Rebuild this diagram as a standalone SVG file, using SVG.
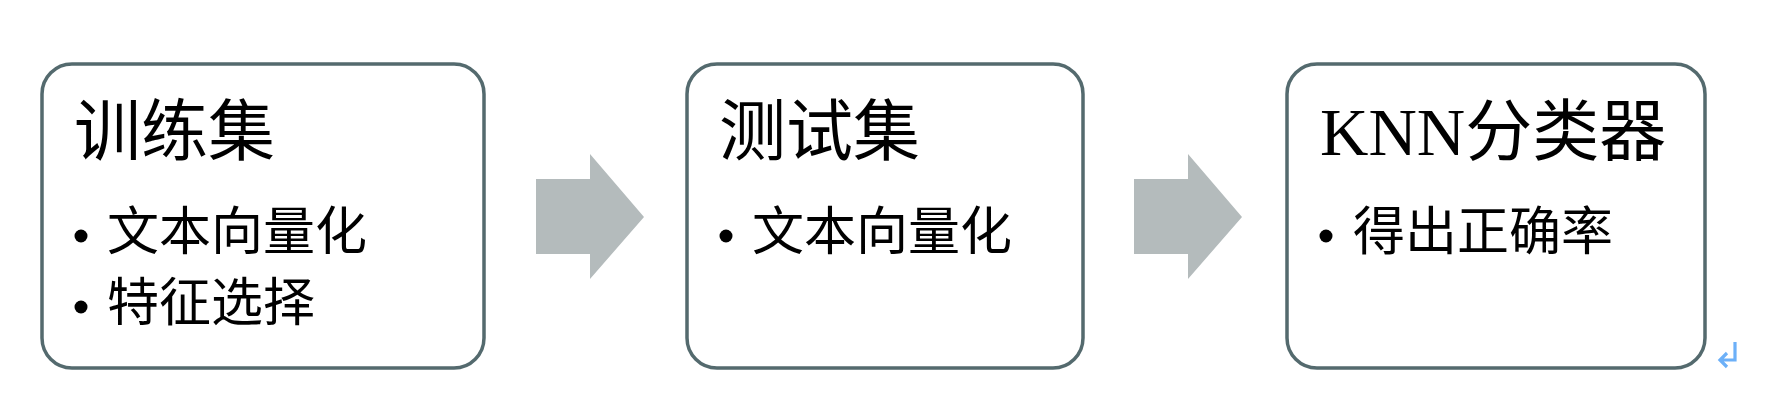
<svg xmlns="http://www.w3.org/2000/svg" width="1774" height="404" viewBox="0 0 1774 404">
<style>
.box{fill:#ffffff;stroke:#546a6e;stroke-width:3.5}
.title{font-family:"Liberation Serif","Noto Sans CJK SC",serif;font-size:67px;fill:#000}
.item{font-family:"Noto Sans CJK SC","Liberation Serif",sans-serif;font-size:52px;fill:#000}
.dot{fill:#000}
.arrow{fill:#b4bbbc}
</style>
<rect width="1774" height="404" fill="#ffffff"/>
<g id="connectors">
<polygon class="arrow" points="536,179 590,179 590,154 644,217 590,279 590,254 536,254"/>
<polygon class="arrow" points="1134,179 1188,179 1188,154 1242,217 1188,279 1188,254 1134,254"/>
</g>
<g id="node-train">
<rect class="box" x="42" y="64" width="442" height="304" rx="30"/>
<text class="title" x="74" y="155">训练集</text>
<circle class="dot" cx="81" cy="236" r="6.5"/>
<text class="item" x="107" y="250">文本向量化</text>
<circle class="dot" cx="81" cy="307" r="6.5"/>
<text class="item" x="107" y="321">特征选择</text>
</g>
<g id="node-test">
<rect class="box" x="687" y="64" width="396" height="304" rx="30"/>
<text class="title" x="719" y="155">测试集</text>
<circle class="dot" cx="726" cy="236" r="6.5"/>
<text class="item" x="752" y="250">文本向量化</text>
</g>
<g id="node-knn">
<rect class="box" x="1287" y="64" width="418" height="304" rx="30"/>
<text class="title" x="1320" y="155">KNN分类器</text>
<circle class="dot" cx="1326" cy="236" r="6.5"/>
<text class="item" x="1353" y="250">得出正确率</text>
</g>
<path d="M1735,342 V360 H1720 M1727,353 L1720,360 L1727,367" fill="none" stroke="#6cb0f8" stroke-width="3.2"/>
</svg>
